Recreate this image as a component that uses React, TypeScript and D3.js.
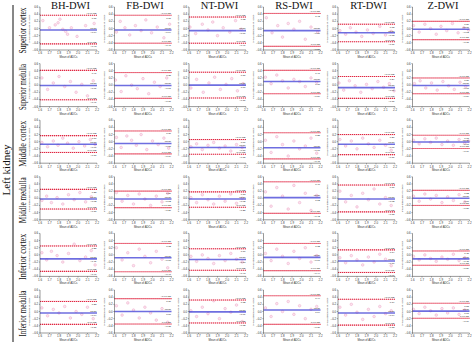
import React from "react";
import * as d3 from "d3";

const methods = ["BH-DWI", "FB-DWI", "NT-DWI", "RS-DWI", "RT-DWI", "Z-DWI"];
const regions = ["Superior cortex", "Superior medulla", "Middle cortex", "Middle medulla", "Inferior cortex", "Inferior medulla"];
const kidneyLabel = "Left kidney";
const yTicks = [-0.6, -0.4, -0.2, 0, 0.2, 0.4, 0.6];
const xTicks = [1.6, 1.7, 1.8, 1.9, 2.0, 2.1, 2.2];

const meanDiff = [
  [-0.04, -0.04, -0.06, -0.06, -0.12, -0.02],
  [-0.01, -0.01, 0.0, 0.10, -0.07, -0.01],
  [-0.07, -0.05, -0.16, -0.17, -0.07, -0.01],
  [-0.02, -0.02, -0.02, 0.02, -0.02, 0.0],
  [-0.11, -0.08, -0.13, -0.07, -0.17, -0.11],
  [-0.04, 0.0, -0.01, 0.04, -0.04, 0.01],
];
const upperLoA = [
  [0.37, 0.37, 0.32, 0.42, 0.12, 0.20],
  [0.41, 0.35, 0.36, 0.41, 0.24, 0.20],
  [0.17, 0.30, 0.06, 0.25, 0.20, 0.18],
  [0.25, 0.20, 0.18, 0.46, 0.37, 0.22],
  [0.25, 0.32, 0.17, 0.32, 0.14, 0.11],
  [0.28, 0.36, 0.32, 0.44, 0.34, 0.23],
];
const lowerLoA = [
  [-0.43, -0.41, -0.41, -0.50, -0.37, -0.31],
  [-0.41, -0.37, -0.36, -0.24, -0.37, -0.24],
  [-0.30, -0.34, -0.35, -0.48, -0.36, -0.19],
  [-0.30, -0.26, -0.25, -0.42, -0.38, -0.20],
  [-0.46, -0.47, -0.43, -0.44, -0.49, -0.29],
  [-0.36, -0.35, -0.32, -0.36, -0.38, -0.19],
];

const points: number[][][] = [
  [[1.63,0.22],[1.70,0.02],[1.76,0.10],[1.79,0.16],[1.81,0.26],[1.84,-0.02],[1.87,-0.08],[1.89,-0.16],[1.93,0.02],[1.99,-0.22],[2.08,0.08],[2.17,0.14]],
  [[1.62,-0.10],[1.66,0.20],[1.71,0.02],[1.76,-0.18],[1.82,0.08],[1.88,-0.06],[1.93,0.24],[1.99,-0.12],[2.05,0.04],[2.12,-0.26],[2.18,0.12]],
  [[1.61,0.04],[1.67,-0.14],[1.74,0.12],[1.80,-0.04],[1.85,0.18],[1.90,-0.20],[1.96,0.02],[2.03,-0.10],[2.09,0.22],[2.15,-0.02]],
  [[1.63,0.30],[1.69,-0.12],[1.75,0.08],[1.80,-0.24],[1.86,0.14],[1.92,-0.02],[1.98,0.20],[2.04,-0.30],[2.10,0.04],[2.17,-0.10]],
  [[1.62,-0.06],[1.68,-0.16],[1.73,0.02],[1.79,-0.10],[1.85,-0.22],[1.91,-0.04],[1.97,-0.14],[2.04,0.06],[2.10,-0.18],[2.16,-0.08]],
  [[1.61,0.08],[1.67,-0.10],[1.73,0.12],[1.79,0.0],[1.85,-0.16],[1.90,0.06],[1.96,-0.06],[2.02,0.14],[2.08,-0.12],[2.14,0.02],[2.19,-0.04]],

  [[1.62,0.20],[1.68,-0.12],[1.74,0.06],[1.80,0.24],[1.86,-0.04],[1.92,0.10],[1.98,-0.20],[2.04,0.02],[2.10,-0.30],[2.16,0.12]],
  [[1.61,0.14],[1.67,-0.18],[1.72,0.26],[1.78,0.00],[1.84,-0.10],[1.90,0.18],[1.96,-0.24],[2.02,0.08],[2.08,-0.04],[2.15,0.20]],
  [[1.62,-0.08],[1.68,0.16],[1.75,-0.20],[1.81,0.06],[1.87,0.22],[1.93,-0.12],[1.99,0.02],[2.05,0.18],[2.11,-0.16],[2.17,0.04]],
  [[1.62,0.22],[1.68,0.04],[1.74,0.28],[1.80,0.12],[1.86,-0.08],[1.92,0.16],[1.98,0.10],[2.04,-0.04],[2.10,0.20],[2.16,0.08]],
  [[1.61,0.06],[1.66,-0.14],[1.72,0.12],[1.78,-0.02],[1.84,-0.20],[1.90,0.02],[1.96,-0.10],[2.02,0.10],[2.08,-0.06],[2.14,0.04],[2.19,-0.16]],
  [[1.62,0.04],[1.68,0.12],[1.74,-0.08],[1.80,0.06],[1.86,-0.14],[1.92,0.10],[1.98,-0.02],[2.04,-0.12],[2.10,0.08],[2.16,-0.04]],

  [[1.62,-0.02],[1.68,-0.14],[1.74,0.02],[1.79,-0.10],[1.84,0.10],[1.89,-0.04],[1.95,-0.18],[2.01,0.00],[2.07,-0.12],[2.13,0.06],[2.18,-0.08]],
  [[1.62,0.12],[1.67,-0.16],[1.73,0.16],[1.78,0.04],[1.83,-0.10],[1.88,0.20],[1.94,-0.22],[2.00,0.02],[2.06,-0.08],[2.12,0.10],[2.17,-0.18]],
  [[1.62,-0.14],[1.68,-0.06],[1.74,-0.22],[1.80,-0.10],[1.86,-0.02],[1.92,-0.18],[1.98,-0.12],[2.04,-0.26],[2.10,-0.08],[2.16,-0.16]],
  [[1.62,0.04],[1.68,-0.30],[1.74,0.14],[1.80,-0.08],[1.86,-0.40],[1.92,0.02],[1.98,-0.20],[2.04,-0.12],[2.10,0.10],[2.16,-0.32]],
  [[1.62,0.06],[1.68,-0.12],[1.74,0.02],[1.80,-0.20],[1.86,0.10],[1.92,-0.06],[1.98,-0.16],[2.04,0.04],[2.10,-0.10],[2.16,-0.24]],
  [[1.61,0.04],[1.67,-0.06],[1.73,0.08],[1.79,-0.02],[1.85,0.10],[1.91,-0.08],[1.97,0.02],[2.03,-0.10],[2.09,0.06],[2.15,-0.04],[2.19,0.02]],

  [[1.62,-0.06],[1.67,0.06],[1.72,-0.12],[1.78,0.02],[1.84,-0.16],[1.90,0.10],[1.96,-0.04],[2.02,0.16],[2.08,-0.10],[2.14,0.04]],
  [[1.62,0.16],[1.68,-0.08],[1.74,0.08],[1.80,-0.16],[1.86,0.12],[1.92,-0.02],[1.98,-0.20],[2.04,0.06],[2.10,-0.10],[2.16,0.14]],
  [[1.62,0.02],[1.68,-0.12],[1.74,0.10],[1.80,-0.04],[1.86,-0.16],[1.92,0.06],[1.98,-0.08],[2.04,0.12],[2.10,-0.14],[2.16,0.00]],
  [[1.62,0.18],[1.68,-0.22],[1.74,0.30],[1.80,0.06],[1.86,-0.30],[1.92,0.36],[1.98,-0.12],[2.04,0.14],[2.10,-0.34],[2.16,0.08]],
  [[1.62,0.20],[1.68,-0.10],[1.74,0.08],[1.80,-0.24],[1.86,0.14],[1.92,-0.04],[1.98,0.26],[2.04,-0.16],[2.10,0.02],[2.16,-0.20]],
  [[1.61,0.06],[1.67,-0.08],[1.73,0.12],[1.79,-0.02],[1.85,0.08],[1.91,-0.12],[1.97,0.04],[2.03,-0.06],[2.09,0.10],[2.15,-0.10]],

  [[1.62,0.06],[1.67,-0.14],[1.72,0.10],[1.78,-0.02],[1.84,-0.20],[1.90,0.04],[1.96,0.30],[2.02,-0.16],[2.08,-0.06],[2.14,0.12],[2.18,-0.28]],
  [[1.62,0.20],[1.68,-0.14],[1.74,0.06],[1.80,-0.30],[1.86,0.16],[1.92,-0.04],[1.98,-0.22],[2.04,0.10],[2.10,-0.12],[2.16,-0.36]],
  [[1.62,-0.04],[1.68,-0.18],[1.74,0.00],[1.80,-0.10],[1.86,-0.24],[1.92,-0.02],[1.98,-0.16],[2.04,0.04],[2.10,-0.12],[2.16,-0.20]],
  [[1.62,0.04],[1.68,-0.16],[1.74,0.16],[1.80,-0.04],[1.86,-0.24],[1.92,0.10],[1.98,-0.10],[2.04,0.20],[2.10,-0.20],[2.16,-0.02]],
  [[1.62,-0.08],[1.68,-0.22],[1.74,-0.02],[1.80,-0.14],[1.86,-0.28],[1.92,-0.06],[1.98,-0.20],[2.04,0.02],[2.10,-0.12],[2.16,-0.30]],
  [[1.61,-0.04],[1.67,-0.14],[1.73,0.00],[1.79,-0.10],[1.85,-0.18],[1.91,-0.06],[1.97,-0.12],[2.03,0.02],[2.09,-0.16],[2.15,-0.08]],

  [[1.62,0.10],[1.68,-0.12],[1.74,0.06],[1.80,-0.04],[1.86,0.14],[1.92,-0.18],[1.98,0.00],[2.04,-0.08],[2.10,0.12],[2.16,-0.20]],
  [[1.62,0.16],[1.68,-0.10],[1.74,0.24],[1.80,0.04],[1.86,-0.18],[1.92,0.12],[1.98,-0.04],[2.04,-0.24],[2.10,0.08],[2.16,-0.30]],
  [[1.62,0.02],[1.68,-0.14],[1.74,0.12],[1.80,-0.06],[1.86,0.30],[1.92,-0.20],[1.98,0.08],[2.04,-0.02],[2.10,0.18],[2.16,-0.28]],
  [[1.62,0.10],[1.68,-0.14],[1.74,0.22],[1.80,0.00],[1.86,0.28],[1.92,-0.08],[1.98,0.16],[2.04,-0.20],[2.10,0.06],[2.16,0.14]],
  [[1.62,0.12],[1.68,-0.10],[1.74,0.20],[1.80,-0.02],[1.86,-0.22],[1.92,0.06],[1.98,-0.14],[2.04,0.14],[2.10,-0.06],[2.16,0.02]],
  [[1.61,0.06],[1.67,-0.06],[1.73,0.12],[1.79,0.02],[1.85,-0.10],[1.91,0.08],[1.97,-0.04],[2.03,0.10],[2.09,-0.08],[2.15,0.04]],
];

const W = 474;
const H = 342;
const colLeft0 = 40;
const colPitch = 74.5;
const plotW = 57;
const rowTop0 = 7;
const rowPitch = 56.6;
const plotH = 43;
const sans = "Liberation Sans, Arial, sans-serif";
const serif = "Liberation Serif, Times New Roman, serif";

function Panel({ r, c }: { r: number; c: number }) {
  const x0 = colLeft0 + colPitch * c;
  const y0 = rowTop0 + rowPitch * r;
  const xs = d3.scaleLinear().domain([xTicks[0], xTicks[xTicks.length - 1]]).range([x0, x0 + plotW]);
  const ys = d3.scaleLinear().domain([yTicks[0], yTicks[yTicks.length - 1]]).range([y0 + plotH, y0]);
  const m = meanDiff[r][c];
  const up = upperLoA[r][c];
  const lo = lowerLoA[r][c];
  const pts = points[r * 6 + c];
  const xr = x0 + plotW;
  const lines = [
    { v: up, name: "+1.96 SD", kind: "sd" },
    { v: m, name: "Mean", kind: "mean" },
    { v: lo, name: "-1.96 SD", kind: "sd" },
  ];
  return (
    <g>
      {pts.map((p, i) => (
        <circle key={i} cx={xs(p[0])} cy={ys(p[1])} r={1.3} fill="#fbe3ee" stroke="#eaa2c2" strokeWidth={0.45} />
      ))}
      {lines.map((l, i) => (
        <g key={i}>
          {l.kind === "sd" ? (
            <g>
              <line x1={x0} x2={xr} y1={ys(l.v)} y2={ys(l.v)} stroke="#f8c4d0" strokeWidth={1.2} />
              <line x1={x0} x2={xr} y1={ys(l.v)} y2={ys(l.v)} stroke="#e0283f" strokeWidth={1.1} strokeDasharray="1.1 0.9" />
            </g>
          ) : (
            <line x1={x0} x2={xr} y1={ys(l.v)} y2={ys(l.v)} stroke="#4a4ad8" strokeOpacity={0.8} strokeWidth={1.6} />
          )}
          <text x={xr - 0.5} y={ys(l.v) - 1.2} fontSize={2.5} textAnchor="end" fill="#222" fontFamily={sans}>{l.name}</text>
          <text x={xr - 0.5} y={ys(l.v) + 3.3} fontSize={2.5} textAnchor="end" fill="#222" fontFamily={sans}>{d3.format(".2f")(l.v)}</text>
        </g>
      ))}
      <line x1={x0} x2={x0} y1={y0} y2={y0 + plotH} stroke="#333" strokeWidth={0.5} />
      <line x1={x0} x2={xr} y1={y0 + plotH} y2={y0 + plotH} stroke="#333" strokeWidth={0.5} />
      {yTicks.map((t) => (
        <g key={"y" + t}>
          <line x1={x0 - 1.2} x2={x0} y1={ys(t)} y2={ys(t)} stroke="#333" strokeWidth={0.4} />
          <text x={x0 - 1.8} y={ys(t) + 1} fontSize={2.9} textAnchor="end" fill="#333" fontFamily={sans}>{d3.format(".1f")(t)}</text>
        </g>
      ))}
      {xTicks.map((t) => (
        <g key={"x" + t}>
          <line x1={xs(t)} x2={xs(t)} y1={y0 + plotH} y2={y0 + plotH + 1.2} stroke="#333" strokeWidth={0.4} />
          <text x={xs(t)} y={y0 + plotH + 4.3} fontSize={2.9} textAnchor="middle" fill="#333" fontFamily={sans}>{d3.format(".1f")(t)}</text>
        </g>
      ))}
      <text x={x0 + plotW / 2} y={y0 + plotH + 8} fontSize={2.8} textAnchor="middle" fill="#333" fontFamily={sans}>Mean of ADCs</text>
      <text transform={`translate(${x0 - 10},${y0 + plotH / 2}) rotate(-90)`} fontSize={2.5} textAnchor="middle" fill="#333" fontFamily={sans}>Mean difference of ADCs</text>
    </g>
  );
}

export default function App() {
  return (
    <svg width={W} height={H} style={{ position: "absolute", left: 0, top: 0, background: "#fff" }}>
      <rect width={W} height={H} fill="#fff" />
      {methods.map((mth, c) => (
        <text key={mth} x={colLeft0 + colPitch * c + plotW / 2 + 2} y={9} fontSize={10.5} textAnchor="middle" fontFamily={serif} fill="#111">{mth}</text>
      ))}
      <line x1={13} x2={13} y1={5} y2={H} stroke="#111" strokeWidth={1} />
      <text transform={`translate(10,170) rotate(-90)`} fontSize={11} textAnchor="middle" fontFamily={serif} fill="#111">{kidneyLabel}</text>
      {regions.map((rg, r) => (
        <text key={rg} transform={`translate(26,${rowTop0 + rowPitch * r + plotH / 2 + 2}) rotate(-90)`} fontSize={10} textAnchor="middle" textLength={46} lengthAdjust="spacingAndGlyphs" fontFamily={serif} fill="#111">{rg}</text>
      ))}
      {regions.map((_, r) => methods.map((__, c) => <Panel key={r + "-" + c} r={r} c={c} />))}
    </svg>
  );
}
